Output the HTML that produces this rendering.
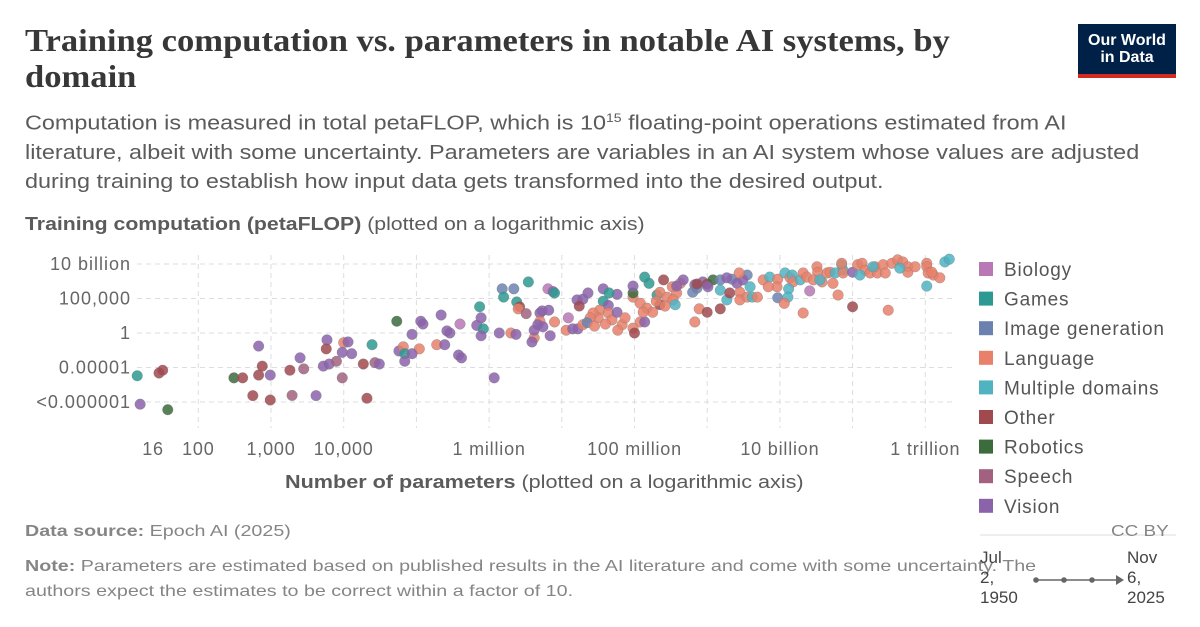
<!DOCTYPE html>
<html><head><meta charset="utf-8"><style>
body{margin:0;width:1200px;height:627px;background:#fff;overflow:hidden;font-family:"Liberation Sans",sans-serif;position:relative}
.t{position:absolute;white-space:nowrap;transform-origin:0 0}
</style></head><body>
<div class="t" style="left:25px;top:22px;font-family:'Liberation Serif',serif;font-size:32px;line-height:36px;color:#373737;font-weight:bold;transform:scaleX(1.08)">Training computation vs. parameters in notable AI systems, by<br>domain</div>
<div style="position:absolute;left:1078px;top:24px;width:98px;height:54px;background:#002147;border-bottom:4px solid #d42b21;box-sizing:border-box;color:#fff;font-size:16px;line-height:17px;text-align:center;padding-top:8px;font-weight:bold">Our World<br>in Data</div>
<div class="t" style="left:25px;top:104px;font-size:20px;line-height:29px;color:#5b5b5b;transform:scaleX(1.17)">Computation is measured in total petaFLOP, which is 10<sup style="font-size:12px">15</sup> floating-point operations estimated from AI<br>literature, albeit with some uncertainty. Parameters are variables in an AI system whose values are adjusted<br>during training to establish how input data gets transformed into the desired output.</div>
<div class="t" style="left:25px;top:214px;font-size:18px;color:#5b5b5b;transform:scaleX(1.18)"><b>Training computation (petaFLOP)</b> (plotted on a logarithmic axis)</div>
<svg id="chart" width="1200" height="627" style="position:absolute;left:0;top:0"></svg>
<div class="t" style="left:285px;top:472px;font-size:18px;color:#5b5b5b;transform:scaleX(1.2)"><b>Number of parameters</b> (plotted on a logarithmic axis)</div>
<div class="t" style="left:25px;top:523px;font-size:16px;color:#858585;transform:scaleX(1.23)"><b>Data source:</b> Epoch AI (2025)</div>
<div class="t" style="left:1111px;top:523px;font-size:16px;color:#858585;transform:scaleX(1.18)">CC BY</div>
<div class="t" style="left:25px;top:554px;font-size:16px;line-height:25px;color:#858585;transform:scaleX(1.23)"><b>Note:</b> Parameters are estimated based on published results in the AI literature and come with some uncertainty. The<br>authors expect the estimates to be correct within a factor of 10.</div>
<div class="t" style="left:980px;top:548px;font-size:17px;line-height:20px;color:#444">Jul<br>2,<br>1950</div>
<div class="t" style="left:1127px;top:548px;font-size:17px;line-height:20px;color:#444">Nov<br>6,<br>2025</div>
<script>
const yTickVals=[10,5,0,-5];
const yTickLabels=["10 billion","100,000","1","0.00001"];
const xTickVals=[Math.log10(16),2,3,4,6,8,10,12];
const xTickLabels=["16","100","1,000","10,000","1 million","100 million","10 billion","1 trillion"];
const categories=["Biology","Games","Image generation","Language","Multiple domains","Other","Robotics","Speech","Vision"];
const colors=["#b877b5","#2c9a92","#6b82b1","#e8806a","#4fb3c2","#a0494f","#3c6b3c","#a1617f","#8b63ab"];
// [log10 params, log10 petaFLOP, category index]
const pts=[[1.16,-6.2,1],[1.2,-11,8],[1.58,-13.5,6],[1.46,-5.8,5],[1.51,-5.4,5],[2.49,-6.5,6],[2.61,-6.5,5],[2.75,-7.1,5],[2.83,-6.1,5],[2.88,-4.8,5],[2.83,-1.9,8],[2.99,-6.1,8],[2.99,-9.1,5],[3.26,-5.4,5],[3.29,-7,7],[3.4,-3.6,8],[3.45,-5.2,7],[3.62,-7.1,8],[3.77,-1,8],[3.76,-2.3,5],[3.72,-4.8,8],[3.8,-4.5,8],[4,-1.4,3],[4.06,-1.3,8],[3.98,-2.8,8],[4.11,-3,8],[3.9,-4.1,7],[3.98,-6.5,7],[4.27,-4.5,5],[4.43,-4.3,7],[4.49,-4.5,8],[4.32,-8.3,5],[4.39,-1.7,1],[4.73,1.7,6],[4.76,-2.6,8],[4.82,-2,3],[4.84,-3,1],[4.84,-4.1,8],[4.94,-0.2,8],[5.04,-2.3,3],[4.94,-3,8],[5.06,1.7,8],[5.09,1.3,8],[5.34,2.6,8],[5.6,1.3,0],[5.42,0.3,8],[5.46,0,8],[5.28,-1.7,3],[5.39,-1.7,8],[5.58,-3.2,8],[5.62,-3.6,8],[5.87,3.8,1],[5.89,2.2,8],[5.83,1.1,8],[5.92,0.6,1],[5.89,-0.4,8],[6.07,-6.5,8],[6.18,6.4,2],[6.34,6.4,2],[6.2,5.2,1],[6.54,7.4,1],[6.38,4.5,1],[6.42,3.8,5],[6.4,3.5,3],[6.51,2.8,7],[6.14,0,8],[6.3,0,3],[6.37,-0.2,8],[6.62,-0.7,3],[6.59,-1.3,8],[6.7,2.9,8],[6.73,3.2,8],[6.7,1.7,3],[6.67,1.2,8],[6.62,0.4,8],[6.74,0.9,8],[6.81,6.4,0],[6.88,6,8],[6.9,5.8,1],[6.82,3.3,8],[6.9,1.6,3],[6.84,-0.4,8],[7.09,2.2,0],[7.21,4.8,8],[7.36,5.8,8],[7.29,4.9,8],[7.24,3.9,5],[7.57,6.4,8],[7.76,5.6,8],[7.65,5.8,1],[7.57,4.6,1],[7.64,4,8],[7.52,3.3,3],[7.64,2.9,3],[7.69,1.9,3],[7.5,2.2,3],[7.43,2.9,3],[7.76,3,8],[7.83,1.2,3],[7.77,0.4,3],[7.98,0.7,3],[8.08,1.6,3],[7.87,2.2,3],[7.06,0.4,3],[7.15,0.6,8],[7.22,0.6,8],[7.29,1.2,3],[7.39,2.2,3],[7.35,1.5,2],[7.45,1.0,3],[7.6,1.3,3],[8,0,5],[7.98,5.2,3],[7.98,5.8,6],[8.14,8.1,1],[8.2,7.2,1],[7.98,6.8,8],[8.14,1.6,8],[8.08,4.3,3],[8.17,3.6,3],[8.25,3,3],[8.12,3,3],[8.31,5.5,1],[8.4,7.7,5],[8.35,4.1,5],[8.35,5.9,3],[8.45,5.2,3],[8.52,6.7,3],[8.58,5.8,3],[8.63,7.2,3],[8.53,4.8,3],[8.3,4.6,3],[8.42,3.9,3],[8.67,7.7,8],[8.58,6.8,8],[8.83,7,8],[8.94,7.4,8],[8.8,5.9,2],[8.86,6.5,2],[8.56,4.1,4],[8.83,1.6,3],[8.89,3.5,3],[9,3,5],[8.86,7.1,5],[9,7.1,5],[9.08,7.7,6],[9.01,6.7,8],[9.18,7.7,2],[9.34,7.8,2],[9.55,8.4,2],[9.18,6.2,4],[9.27,4.8,4],[9.18,3.5,5],[9.31,5.8,5],[9.27,8,8],[9.41,7.2,8],[9.49,7.7,8],[9.44,8.7,3],[9.45,5.9,3],[9.45,4.8,3],[9.55,5.2,3],[9.59,6.7,4],[9.62,5.2,4],[9.69,5.2,3],[9.77,7.7,3],[9.86,8.1,4],[9.97,7.8,3],[9.96,6.7,3],[10.07,8.7,4],[10.14,8,3],[10.17,8.4,4],[10.18,7.4,3],[10.28,7.7,4],[10.32,8.7,3],[10.37,8.1,3],[9.84,6.7,3],[9.97,5.1,2],[10.12,6.4,4],[10.11,5.2,4],[10.06,4.3,3],[10.32,2.9,3],[10.41,6.1,0],[10.51,9.6,3],[10.52,8.8,3],[10.46,7.7,3],[10.58,7.4,3],[10.55,7.7,4],[10.65,8.7,3],[10.69,8.8,3],[10.73,7.2,3],[10.8,5.5,3],[10.76,8.7,4],[10.85,9.9,4],[10.87,9.1,4],[10.85,10.1,3],[10.87,8.7,3],[11,8.8,8],[11,3.8,5],[11.07,9.9,3],[11.13,10.1,3],[11.17,9.1,3],[11.24,8.7,3],[11.31,9.6,3],[11.34,8.7,3],[11.42,9.9,3],[11.45,8.7,3],[11.54,10.1,3],[11.62,10.6,3],[11.69,10.3,3],[11.76,9.6,3],[11.76,8.8,3],[11.86,9.6,3],[12.02,10.1,3],[12.02,9.6,3],[12.04,8.7,3],[12.11,8.4,3],[12.2,8,3],[11.1,8.4,4],[11.28,9.6,4],[11.65,9.4,4],[11.49,3.3,3],[12.02,6.8,4],[12.27,10.3,4],[12.33,10.7,4],[12.09,8.8,3]];
const NS="http://www.w3.org/2000/svg";
const svg=document.getElementById('chart');
const X=v=>271+(v-3)*72.7;
const Yp=v=>v<-6.5?Math.min(402+(-v-10)*2.2,430):333-v*6.9;
function mk(t,a){const e=document.createElementNS(NS,t);for(const k in a)e.setAttribute(k,a[k]);svg.appendChild(e);return e;}
[2,3,4,5,6,7,8,9,10,11,12].forEach(v=>{const l=mk('line',{x1:X(v),x2:X(v),y1:255,y2:428,stroke:'#ddd','stroke-dasharray':'5,4'});

});
yTickVals.concat([-10]).forEach(v=>{const y=v===-10?402:333-v*6.9;const l=mk('line',{x1:137,x2:952,y1:y,y2:y,stroke:'#ddd','stroke-dasharray':'5,4'});

});
yTickLabels.concat(["<0.000001"]).forEach((s,i)=>{const v=i<4?yTickVals[i]:-10;const y=v===-10?402:333-v*6.9;const t=mk('text',{x:131,y:y+6,'text-anchor':'end','font-size':'18','letter-spacing':'1','fill':'#666','font-family':'Liberation Sans, sans-serif'});t.textContent=s;

});
xTickLabels.forEach((s,i)=>{let x=X(xTickVals[i]);if(i===0)x=153;const t=mk('text',{x:x,y:455,'text-anchor':'middle','font-size':'18','letter-spacing':'0.8','fill':'#666','font-family':'Liberation Sans, sans-serif'});t.textContent=s;

});
pts.forEach(p=>{const c=mk('circle',{cx:X(p[0]),cy:Yp(p[1]),r:5.3,fill:colors[p[2]],'fill-opacity':0.85,stroke:'#777','stroke-width':0.5,'stroke-opacity':0.6});

});
categories.forEach((c,i)=>{const y=269+i*29.6;const r=mk('rect',{x:979,y:y-7,width:14,height:14,fill:colors[i]});


const t=mk('text',{x:1004,y:y+7,'font-size':'19','letter-spacing':'0.8','fill':'#555','font-family':'Liberation Sans, sans-serif'});t.textContent=c;

});
const hr=mk('line',{x1:980,x2:1176,y1:535,y2:535,stroke:'#ddd'});


const tl=mk('line',{x1:1036,x2:1116,y1:580,y2:580,stroke:'#666','stroke-width':1.5});


const ah=mk('path',{d:'M1116,575 L1124,580 L1116,585 Z',fill:'#666'});


[1036,1064,1092].forEach(x=>{const d=mk('circle',{cx:x,cy:580,r:2.8,fill:'#666'});

});
</script>
</body></html>
